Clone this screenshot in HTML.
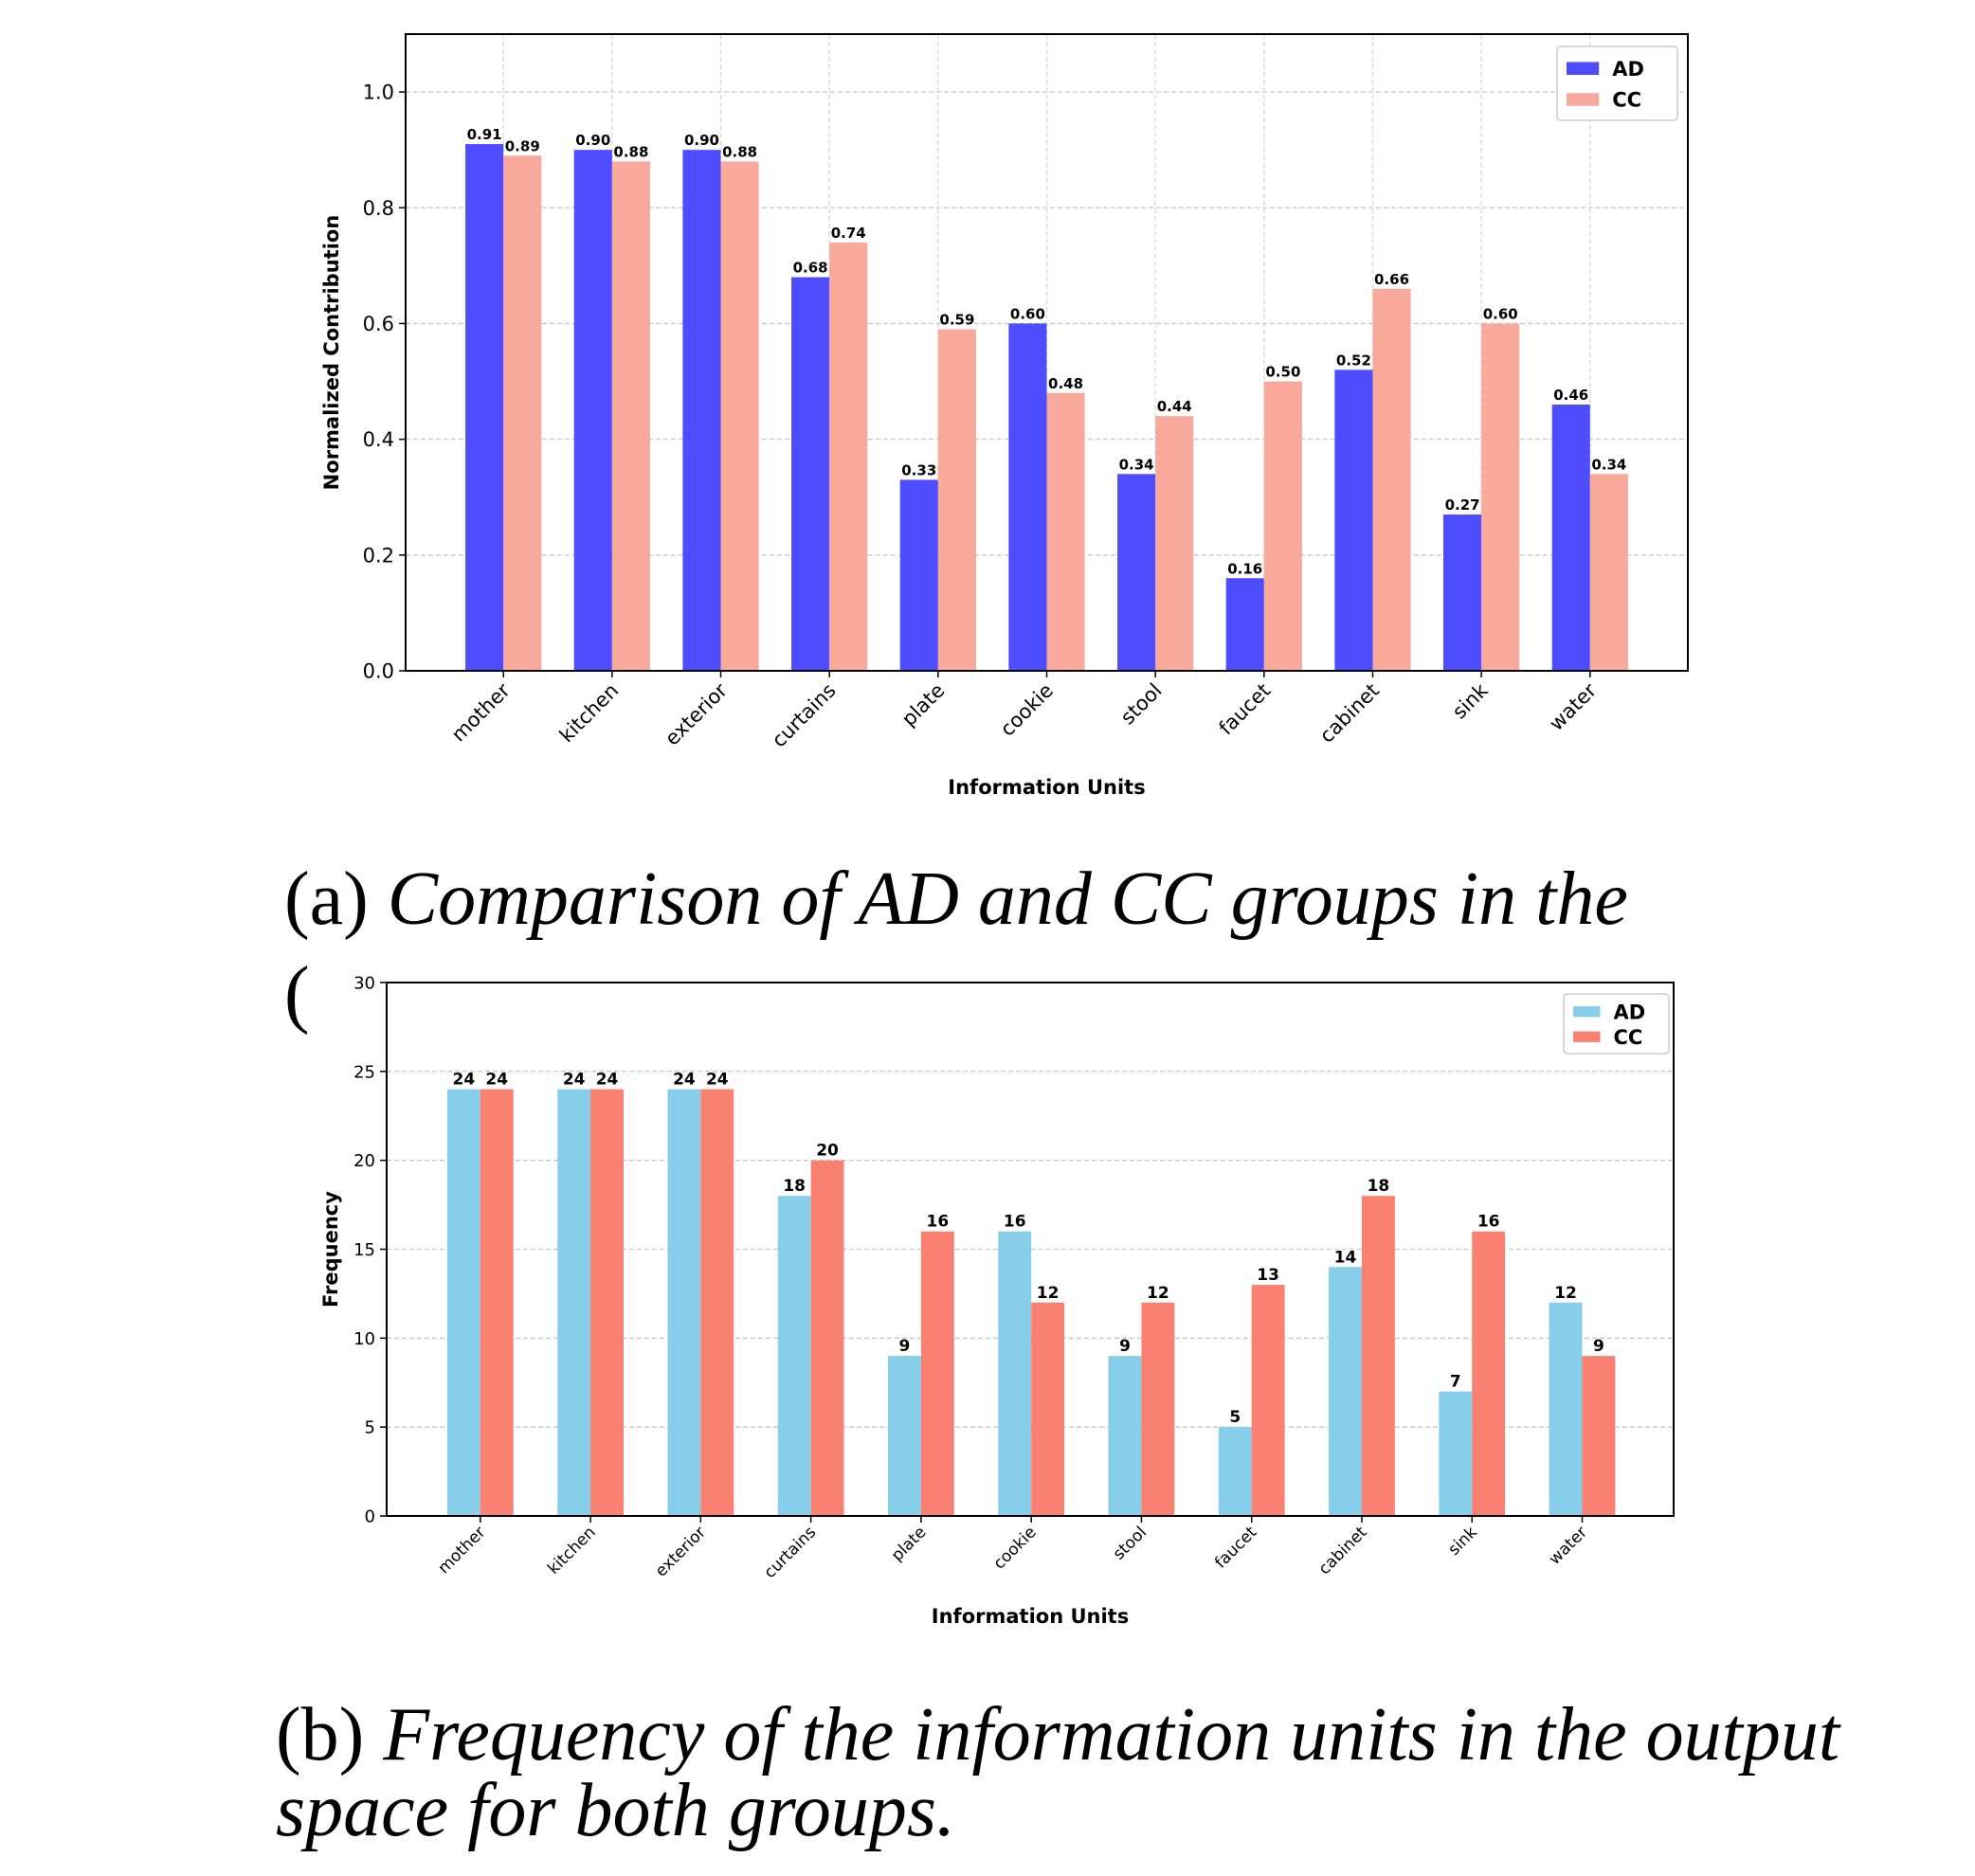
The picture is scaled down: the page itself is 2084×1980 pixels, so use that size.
<!DOCTYPE html>
<html><head><meta charset="utf-8"><style>
html,body{margin:0;padding:0;background:#fff}
svg{display:block}
text{font-family:"DejaVu Sans","Liberation Sans",sans-serif}
.cap{font-family:"Liberation Serif",serif;font-size:80px;fill:#000}
</style></head><body>
<svg id="s" width="2084" height="1980" viewBox="0 0 2084 1980">
<text class="cap" x="300" y="975">(a) <tspan font-style="italic">Comparison of AD and CC groups in the</tspan></text>
<text class="cap" x="300" y="1075">(</text>
<text class="cap" x="291" y="1857">(b) <tspan font-style="italic">Frequency of the information units in the output</tspan></text>
<text class="cap" x="291" y="1937"><tspan font-style="italic">space for both groups.</tspan></text>
</svg>
<script>
const categories = ["mother","kitchen","exterior","curtains","plate","cookie","stool","faucet","cabinet","sink","water"];
const contribAD = [0.91,0.90,0.90,0.68,0.33,0.60,0.34,0.16,0.52,0.27,0.46];
const contribCC = [0.89,0.88,0.88,0.74,0.59,0.48,0.44,0.50,0.66,0.60,0.34];
const contribTicks = [0.0,0.2,0.4,0.6,0.8,1.0];
const freqAD = [24,24,24,18,9,16,9,5,14,7,12];
const freqCC = [24,24,24,20,16,12,12,13,18,16,9];
const freqTicks = [0,5,10,15,20,25,30];

const NS="http://www.w3.org/2000/svg";
const svg=document.getElementById('s');
function mk(tag,attrs,parent,txt){const e=document.createElementNS(NS,tag);for(const k in attrs)e.setAttribute(k,attrs[k]);if(txt!==undefined)e.textContent=txt;(parent||svg).appendChild(e);return e;}

function chart(c){
  const g=mk('g',{});
  
  
  mk('rect',{x:c.L,y:c.T,width:c.R-c.L,height:c.B-c.T,fill:'#fff'},g);
  const n=categories.length;
  const xs=i=>c.L+(i-c.x0)/(c.x1-c.x0)*(c.R-c.L);
  const ys=v=>c.B-(v-c.y0)/(c.y1-c.y0)*(c.B-c.T);
  const step=xs(1)-xs(0), bw=c.bw*step;
  // grid
  c.ticks.forEach(t=>{const l=mk('line',{x1:c.L,x2:c.R,y1:ys(t),y2:ys(t),stroke:'#c8c8c8','stroke-width':1.3,'stroke-dasharray':'5,3'},g);
    });
  if(c.xgrid) categories.forEach((k,i)=>{const l=mk('line',{x1:xs(i),x2:xs(i),y1:c.T,y2:c.B,stroke:'#d8d8d8','stroke-width':1.3,'stroke-dasharray':'5,3'},g);
    });
  const series=[[c.ad,c.colAD,-1,'ad'],[c.cc,c.colCC,0,'cc']];
  series.forEach(([vals,col,off,nm])=>{
    vals.forEach((v,i)=>{
      const x=xs(i)+off*bw;
      const r=mk('rect',{x:x,y:ys(v),width:bw,height:ys(0)-ys(v),fill:col},g);
      
      
      const t=mk('text',{x:x+bw/2,y:ys(v)-5,'text-anchor':'middle','font-size':c.lfs,'font-weight':'bold'},g,c.fmt(v));
      
      
    });
  });
  mk('rect',{x:c.L,y:c.T,width:c.R-c.L,height:c.B-c.T,fill:'none',stroke:'#000','stroke-width':2},g);
  c.ticks.forEach(t=>{
    mk('line',{x1:c.L-7,x2:c.L,y1:ys(t),y2:ys(t),stroke:'#000','stroke-width':1.5},g);
    const tx=mk('text',{x:c.L-12,y:ys(t)+c.tfs*0.36,'text-anchor':'end','font-size':c.tfs},g,c.tfmt(t));
    
  });
  categories.forEach((k,i)=>{
    mk('line',{x1:xs(i),x2:xs(i),y1:c.B,y2:c.B+7,stroke:'#000','stroke-width':1.5},g);
    const tx=mk('text',{x:xs(i)+c.xoff,y:c.B+c.xdy,'text-anchor':'end','font-size':c.xfs,transform:`rotate(-45 ${xs(i)+c.xoff} ${c.B+c.xdy})`},g,k);
    
  });
  const xt=mk('text',{x:(c.L+c.R)/2,y:c.xty,'text-anchor':'middle','font-size':c.afs,'font-weight':'bold'},g,'Information Units');
  
  const yt=mk('text',{x:c.ytx,y:(c.T+c.B)/2,'text-anchor':'middle','font-size':c.afs,'font-weight':'bold',transform:`rotate(-90 ${c.ytx} ${(c.T+c.B)/2})`},g,c.ytitle);
  
  // legend
  const lg=mk('g',{},g);
  
  const [lx,ly,lw,lh]=c.leg;
  mk('rect',{x:lx,y:ly,width:lw,height:lh,rx:4,fill:'#fff',stroke:'#ccc','stroke-width':1.5},lg);
  [['AD',c.colAD],['CC',c.colCC]].forEach(([nm,col],j)=>{
    const yy=ly+lh*(0.3+0.42*j);
    mk('rect',{x:lx+10,y:yy-c.lsw/2.6,width:c.lsw*1.9,height:c.lsw*0.75,fill:col},lg);
    const t=mk('text',{x:lx+c.lsw*1.9+24,y:yy+c.afs*0.36,'font-size':c.afs,'font-weight':'bold'},lg,nm);
    
  });
}

chart({name:'chart-a-contribution',L:428,R:1781,T:36,B:708,x0:-0.9,x1:10.9,y0:0,y1:1.1,bw:0.35,
  ad:contribAD,cc:contribCC,ticks:contribTicks,colAD:'#4d4dff',colCC:'#f9a89c',xgrid:true,
  fmt:v=>v.toFixed(2),tfmt:t=>t.toFixed(1),lfs:15,tfs:21,xfs:21,afs:21,xoff:8,xdy:22,xty:838,ytx:357,
  ytitle:'Normalized Contribution',leg:[1643,49,127,78],lsw:18});
chart({name:'chart-b-frequency',L:408,R:1766,T:1037,B:1600,x0:-0.85,x1:10.83,y0:0,y1:30,bw:0.3,
  ad:freqAD,cc:freqCC,ticks:freqTicks,colAD:'#87ceeb',colCC:'#fa8072',xgrid:false,
  fmt:v=>String(v),tfmt:t=>String(t),lfs:17,tfs:18,xfs:17,afs:21,xoff:6,xdy:18,xty:1713,ytx:356,
  ytitle:'Frequency',leg:[1650,1049,111,63],lsw:15});
</script>
</body></html>
